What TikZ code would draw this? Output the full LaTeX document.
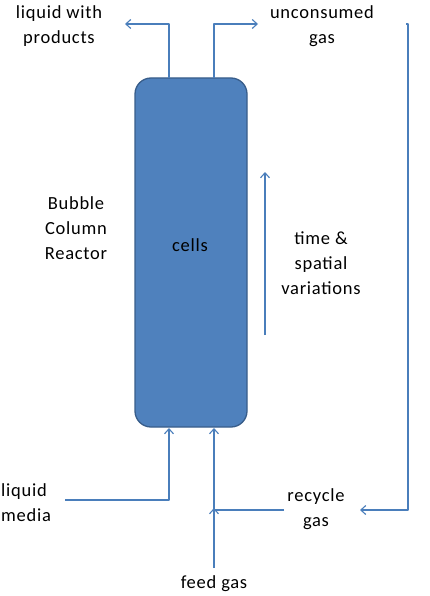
\documentclass[tikz,border=0pt]{standalone}
\usepackage{fontspec}
\setmainfont{Carlito}[LetterSpace=4]
\usetikzlibrary{arrows.meta}
\definecolor{colfill}{HTML}{4F81BD}
\definecolor{colline}{HTML}{385D8A}
\definecolor{pipe}{HTML}{4A7EBB}
\begin{document}
\begin{tikzpicture}[x=1pt,y=-1pt,line join=round,font=\fontsize{18.5}{25}\selectfont,>={Straight Barb[length=5pt,width=9pt]},
	pipe/.style={draw=pipe,line width=1.1pt},lbl/.style={align=center,inner sep=0pt}]
	\useasboundingbox (0,0) rectangle (429,596);
	\node[draw=colline,fill=colfill,line width=1.3pt,rounded corners=16pt,minimum width=112pt,minimum height=349pt,inner sep=0pt] (col) at (191,252.5) {};
	\node (cells) at (190,245) {cells};
	\node[lbl] (prod) at (59,26) {liquid with\\products};
	\node[lbl] (ugas) at (322,26) {unconsumed\\gas};
	\node[lbl] (bcr) at (76,228) {Bubble\\Column\\Reactor};
	\node[lbl] (time) at (321,263) {time \&\\spatial\\variations};
	\node[lbl,align=left,anchor=west] (media) at (1,503) {liquid\\media};
	\node[lbl] (rgas) at (316,509) {recycle\\gas};
	\node[lbl] (feed) at (214,584) {feed gas};
	% pipes
	\coordinate (t1) at (169,78); \coordinate (t2) at (214,78);
	\coordinate (b1) at (169,428); \coordinate (b2) at (214,428);
	\draw[pipe,->](t1)|-(125,24);
	\draw[pipe,->](t2)|-(258,24);
	\draw[pipe,->](406,24)-|(408,510)--(360,510);
	\draw[pipe,->](65,500)-|(b1);
	\draw[pipe,->](214,568)--(b2);
	\draw[pipe,->](284,510)-|(214,508);
	\draw[pipe,->](265,335)--(265,172);
\end{tikzpicture}
\end{document}
